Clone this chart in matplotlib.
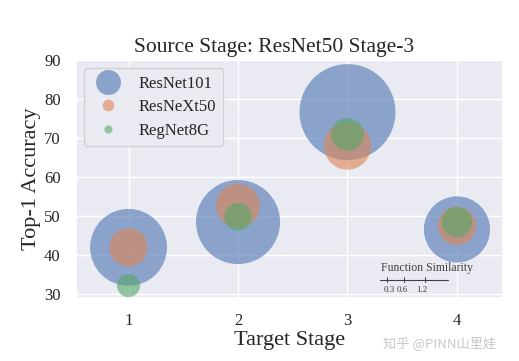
import matplotlib
matplotlib.use("Agg")
import matplotlib.pyplot as plt
import seaborn as sns
from matplotlib.lines import Line2D
import numpy as np

sns.set_theme(style="darkgrid")
plt.rcParams['font.family'] = ['Liberation Serif', 'DejaVu Serif']

stages = [1, 2, 3, 4]
models = ["ResNet101", "ResNeXt50", "RegNet8G"]
accuracy = {
    "ResNet101": [42.0, 48.5, 76.7, 46.6],
    "ResNeXt50": [42.0, 52.7, 68.0, 47.5],
    "RegNet8G": [32.2, 49.8, 71.0, 48.5],
}
similarity = {
    "ResNet101": [0.77, 0.92, 1.20, 0.57],
    "ResNeXt50": [0.19, 0.25, 0.29, 0.19],
    "RegNet8G": [0.07, 0.10, 0.14, 0.12],
}
size_ticks = [0.3, 0.6, 1.2]
colors = ["#4C72B0", "#DD8452", "#55A868"]

fig = plt.figure(figsize=(5.19, 3.61), dpi=100)
ax = fig.add_axes([0.1464, 0.1745, 0.8227, 0.6595])

scale = 3980
for m, c in zip(models, colors):
    ax.scatter(stages, accuracy[m], s=np.array(similarity[m]) * scale,
               color=c, alpha=0.6, linewidths=0, zorder=3)

ax.set_xlim(0.52, 4.42)
ax.set_ylim(29, 90.1)
ax.set_xticks(stages)
ax.set_yticks([30, 40, 50, 60, 70, 80, 90])
ax.tick_params(axis='both', labelsize=12, colors='#262626', pad=5)
ax.set_xlabel("Target Stage", fontsize=16, color='#262626', labelpad=1)
ax.set_ylabel("Top-1 Accuracy", fontsize=16, color='#262626', labelpad=2)
ax.set_title("Source Stage: ResNet50 Stage-3", fontsize=15.5, color='#262626',
             x=0.464, pad=6)

handles = [Line2D([], [], marker='o', linestyle='none', color=c, alpha=0.6,
                  markeredgewidth=0, markersize=ms)
           for c, ms in zip(colors, [18, 8.4, 5.8])]
leg = ax.legend(handles, models, loc='upper left', fontsize=12,
                bbox_to_anchor=(0.0, 1.0), borderpad=0.45,
                handletextpad=0.8, labelspacing=0.45, frameon=True,
                handlelength=2.0)
for t in leg.get_texts():
    t.set_color('#262626')

# function similarity scale
ax.text(0.715, 0.125, "Function Similarity", transform=ax.transAxes,
        fontsize=8.5, color='#404040', ha='left', va='center')
x0, x1 = 0.713, 0.872
yl = 0.075
ax.plot([x0, x1], [yl, yl], transform=ax.transAxes, color='#404040', lw=0.8, zorder=4)
tick_pos = [0.728, 0.768, 0.817]
for tp in tick_pos:
    ax.plot([tp, tp], [yl - 0.008, yl + 0.014], transform=ax.transAxes,
            color='#404040', lw=0.7, zorder=4)
for tp, lab in zip([0.733, 0.765, 0.81], size_ticks):
    ax.text(tp, 0.035, f"{lab}", transform=ax.transAxes, fontsize=6.5,
            color='#404040', ha='center', va='center')

fig.text(0.848, 0.05, "知乎 @PINN山里娃", fontsize=9.5, color='#c8c8c8',
         ha='center', va='center', family=['Noto Sans CJK SC', 'DejaVu Sans'])

fig.savefig("out.png", dpi=100)
